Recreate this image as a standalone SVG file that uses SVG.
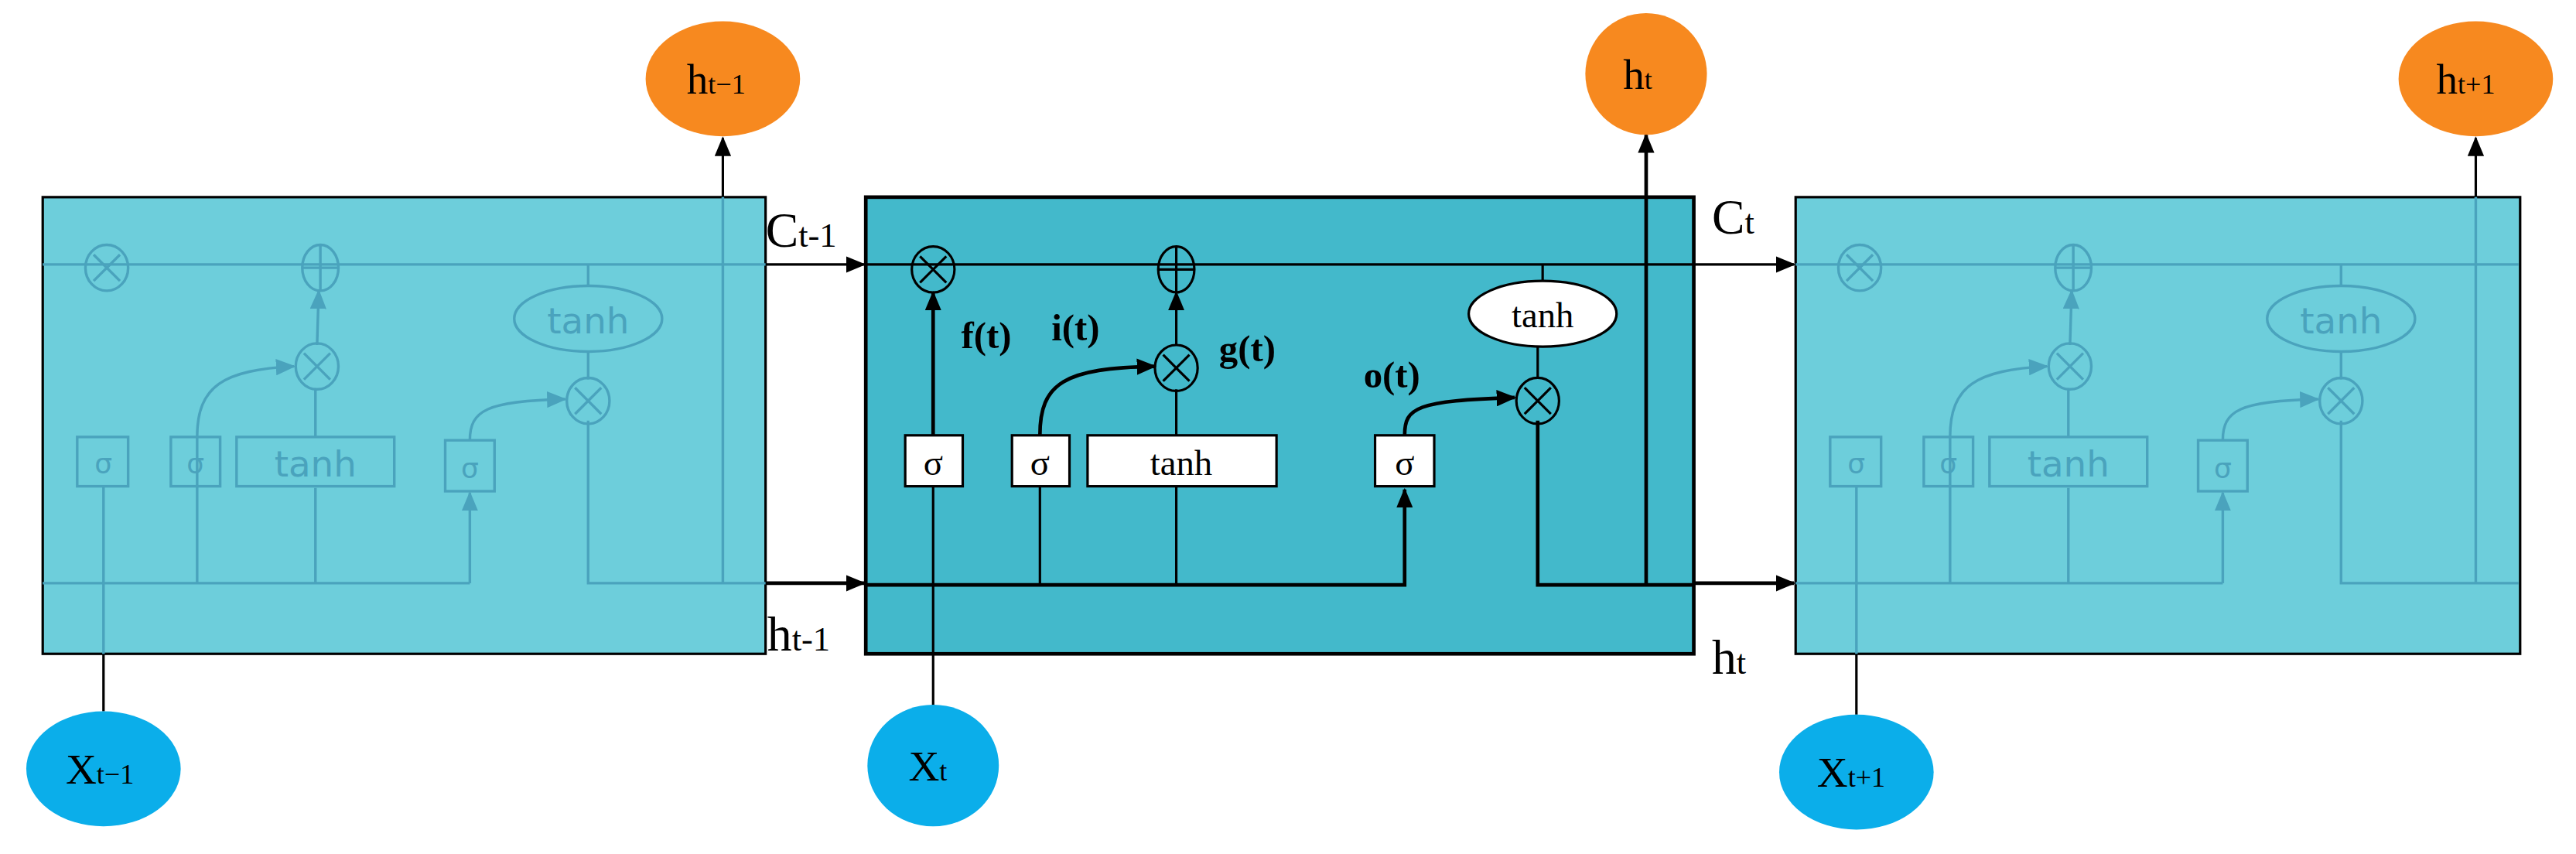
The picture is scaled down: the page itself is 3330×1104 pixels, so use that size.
<svg xmlns="http://www.w3.org/2000/svg" width="3330" height="1104" viewBox="0 0 3330 1104">
<defs>
<marker id="ah" markerUnits="userSpaceOnUse" markerWidth="12" markerHeight="10" refX="11" refY="5" orient="auto"><path d="M0,0 L12,5 L0,10 Z" fill="#000"/></marker>
<marker id="af" markerUnits="userSpaceOnUse" markerWidth="12" markerHeight="10" refX="11" refY="5" orient="auto"><path d="M0,0 L12,5 L0,10 Z" fill="#4aa3bd"/></marker>
<g id="faded">
<g class="fl">
<line x1="0" y1="161" x2="440" y2="161"/>
<line x1="0" y1="355" x2="260" y2="355"/>
<line x1="260" y1="355" x2="260" y2="300" marker-end="url(#af)"/>
<polyline points="332,256 332,355 440,355"/>
<line x1="414" y1="355" x2="414" y2="120"/>
<line x1="37" y1="296" x2="37" y2="398"/>
<line x1="94" y1="266" x2="94" y2="355"/>
<line x1="166" y1="297" x2="166" y2="355"/>
<line x1="167" y1="210" x2="168" y2="177" marker-end="url(#af)"/>
<line x1="166" y1="266" x2="166" y2="237"/>
<line x1="332" y1="161" x2="332" y2="174"/>
<line x1="332" y1="214" x2="332" y2="231"/>
<path d="M94,266 C94,235 110,225 153,223" marker-end="url(#af)"/>
<path d="M260,268 C260,250 270,244 318,243" marker-end="url(#af)"/>
</g>
<g class="ff">
<ellipse cx="39" cy="163" rx="13" ry="14"/>
<ellipse cx="169" cy="163" rx="11" ry="14"/>
<ellipse cx="167" cy="223" rx="13" ry="14"/>
<ellipse cx="332" cy="244" rx="13" ry="14"/>
<ellipse cx="332" cy="194" rx="45" ry="20"/>
<rect x="21" y="266" width="31" height="30"/>
<rect x="78" y="266" width="30" height="30"/>
<rect x="118" y="266" width="96" height="30"/>
<rect x="245" y="268" width="30" height="31"/>
</g>
<g class="fl" stroke-width="1.2">
<path d="M31,155 L47,171 M47,155 L31,171"/>
<path d="M169,149 L169,177 M158,163 L180,163"/>
<path d="M159,215 L175,231 M175,215 L159,231"/>
<path d="M324,236 L340,252 M340,236 L324,252"/>
</g>
<g class="ft">
<text x="37" y="288">σ</text><text x="93" y="288">σ</text><text x="166" y="290" font-size="22">tanh</text>
<text x="260" y="291">σ</text><text x="332" y="203" font-size="22">tanh</text>
</g>
</g>
</defs>
<style>
.fl{stroke:#4aa3bd;stroke-width:1.6;fill:none}
.ff{stroke:#4aa3bd;stroke-width:1.6;fill:none}
.ft{fill:#4aa3bd;font-family:"DejaVu Sans",sans-serif;font-size:17px;text-anchor:middle}
.k{stroke:#000;stroke-width:1.5;fill:none}
.kb{stroke:#000;stroke-width:2.2;fill:none}
.wt{fill:#fff;stroke:#000;stroke-width:1.5}
.s{font-family:"Liberation Serif",serif;fill:#000}
.lbl{font-family:"Liberation Serif",serif;font-weight:bold;font-size:23px}
.mt{font-family:"Liberation Serif",serif;font-size:22px;text-anchor:middle}
</style>
<rect width="3330" height="1104" fill="#fff"/>
<g transform="scale(2.12372)">
<g id="connectors">
<line class="k" x1="440" y1="120" x2="440" y2="84" marker-end="url(#ah)"/>
<line class="k" x1="63" y1="398" x2="63" y2="433"/>
<line class="k" x1="1507" y1="120" x2="1507" y2="84" marker-end="url(#ah)"/>
<line class="k" x1="1130" y1="398" x2="1130" y2="435"/>
<line class="k" x1="466" y1="161" x2="526" y2="161" marker-end="url(#ah)"/>
<line class="kb" x1="466" y1="355" x2="526" y2="355" marker-end="url(#ah)"/>
<line class="k" x1="1031" y1="161" x2="1092" y2="161" marker-end="url(#ah)"/>
<line class="kb" x1="1031" y1="355" x2="1092" y2="355" marker-end="url(#ah)"/>
</g>
<g id="cell-prev">
<rect x="26" y="120" width="440" height="278" fill="#6dcedb" stroke="#000" stroke-width="1.5"/>
<use href="#faded" x="26" y="0"/>
</g>
<g id="cell-next">
<rect x="1093" y="120" width="441" height="278" fill="#6dcedb" stroke="#000" stroke-width="1.5"/>
<use href="#faded" x="1093" y="0"/>
</g>
<g id="cell-current">
<rect x="527" y="120" width="504" height="278" fill="#43b9cb" stroke="#000" stroke-width="2.2"/>
<line class="k" x1="527" y1="161" x2="1031" y2="161"/>
<polyline class="kb" points="527,356 855,356 855,298" marker-end="url(#ah)"/>
<polyline class="kb" points="936,256 936,356 1031,356"/>
<line class="kb" x1="1002" y1="356" x2="1002" y2="82" marker-end="url(#ah)"/>
<line class="k" x1="568" y1="431" x2="568" y2="296"/>
<line class="kb" x1="568" y1="265" x2="568" y2="178" marker-end="url(#ah)"/>
<line class="k" x1="633" y1="296" x2="633" y2="356"/>
<line class="k" x1="716" y1="296" x2="716" y2="356"/>
<line class="k" x1="716" y1="265" x2="716" y2="237"/>
<line class="k" x1="716" y1="210" x2="716" y2="178" marker-end="url(#ah)"/>
<path class="kb" d="M633,265 C633,233 648,224 703,223" marker-end="url(#ah)"/>
<path class="kb" d="M855,265 C855,248 862,244 922,242" marker-end="url(#ah)"/>
<line class="k" x1="939" y1="161" x2="939" y2="172"/>
<line class="k" x1="936" y1="211" x2="936" y2="230"/>
<ellipse class="k" cx="568" cy="164" rx="13" ry="14"/>
<path class="k" d="M560,156 L576,172 M576,156 L560,172"/>
<ellipse class="k" cx="716" cy="164" rx="11" ry="14"/>
<path class="k" d="M716,150 L716,178 M705,164 L727,164"/>
<ellipse class="k" cx="716" cy="224" rx="13" ry="14"/>
<path class="k" d="M708,216 L724,232 M724,216 L708,232"/>
<ellipse class="k" cx="936" cy="244" rx="13" ry="14"/>
<path class="k" d="M928,236 L944,252 M944,236 L928,252"/>
<ellipse class="wt" cx="939" cy="191" rx="45" ry="20"/>
<text class="mt" x="939" y="199">tanh</text>
<rect class="wt" x="551" y="265" width="35" height="31"/>
<rect class="wt" x="616" y="265" width="35" height="31"/>
<rect class="wt" x="662" y="265" width="115" height="31"/>
<rect class="wt" x="837" y="265" width="36" height="31"/>
<text class="mt" x="568" y="289">σ</text>
<text class="mt" x="633" y="289">σ</text>
<text class="mt" x="719" y="289">tanh</text>
<text class="mt" x="855" y="289">σ</text>
<text class="lbl" x="585" y="212">f(t)</text>
<text class="lbl" x="640" y="207">i(t)</text>
<text class="lbl" x="742" y="220">g(t)</text>
<text class="lbl" x="830" y="236">o(t)</text>
</g>
<g id="labels" class="s">
<text x="466" y="150" font-size="30">C<tspan font-size="21">t-1</tspan></text>
<text x="467" y="396" font-size="30">h<tspan font-size="21">t-1</tspan></text>
<text x="1042" y="142" font-size="30">C<tspan font-size="21">t</tspan></text>
<text x="1042" y="410" font-size="30">h<tspan font-size="21">t</tspan></text>
</g>
<g id="h-prev"><ellipse cx="440" cy="48" rx="47" ry="35" fill="#f7891f"/><text class="s" x="418" y="57" font-size="26">h<tspan font-size="17">t−1</tspan></text></g>
<g id="h-cur"><ellipse cx="1002" cy="45" rx="37" ry="37" fill="#f7891f"/><text class="s" x="988" y="54" font-size="26">h<tspan font-size="17">t</tspan></text></g>
<g id="h-next"><ellipse cx="1507" cy="48" rx="47" ry="35" fill="#f7891f"/><text class="s" x="1483" y="57" font-size="26">h<tspan font-size="17">t+1</tspan></text></g>
<g id="x-prev"><ellipse cx="63" cy="468" rx="47" ry="35" fill="#0baeea"/><text class="s" x="40" y="477" font-size="26">X<tspan font-size="17">t−1</tspan></text></g>
<g id="x-cur"><ellipse cx="568" cy="466" rx="40" ry="37" fill="#0baeea"/><text class="s" x="553" y="475" font-size="26">X<tspan font-size="17">t</tspan></text></g>
<g id="x-next"><ellipse cx="1130" cy="470" rx="47" ry="35" fill="#0baeea"/><text class="s" x="1106" y="479" font-size="26">X<tspan font-size="17">t+1</tspan></text></g>
</g>
</svg>
